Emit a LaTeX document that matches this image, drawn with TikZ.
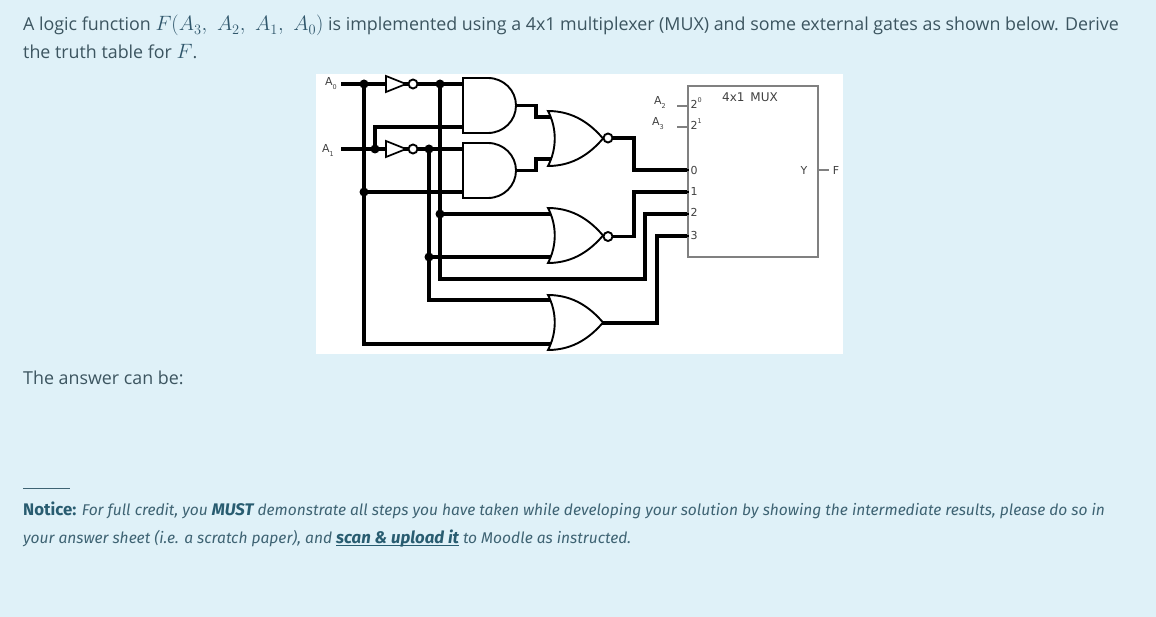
\documentclass[tikz,border=0pt]{standalone}
\usepackage{fontspec}
\setmainfont{Open Sans}
\newfontfamily\fira{Fira Sans}
\newfontfamily\dejavu{DejaVu Sans}
\definecolor{pagebg}{HTML}{DFF1F8}
\definecolor{bodytxt}{HTML}{3C5560}
\definecolor{mathtxt}{HTML}{2F566B}
\definecolor{noticetxt}{HTML}{3E6373}
\definecolor{strongtxt}{HTML}{285C70}
\definecolor{muxgray}{HTML}{808080}
\definecolor{lbl}{HTML}{404040}
\newcommand{\sbs}[1]{\raisebox{-4pt}{\fontsize{6.5}{6.5}\selectfont #1}}
\newcommand{\sps}[1]{\raisebox{6pt}{\fontsize{6.5}{6.5}\selectfont #1}}
\newcommand{\bigmath}[1]{\textcolor{mathtxt}{\fontsize{22}{22}\selectfont$#1$}}
\newcommand{\strongtext}[1]{{\fontsize{16.8}{17}\selectfont\bfseries\textcolor{strongtxt}{#1}}}
\tikzset{
  x=1pt,y=-1pt,
  wire/.style={line width=3.1pt,black,line join=miter},
  gateline/.style={line width=1.9pt,black,fill=white,line join=miter},
  thin wire/.style={line width=1.2pt,muxgray},
  junction/.style={circle,fill=black,inner sep=0pt,minimum size=9pt},
  bubble/.style={circle,draw=black,line width=1.9pt,fill=white,inner sep=0pt,minimum size=9pt},
  head/.style={anchor=base west,inner sep=0pt,text=bodytxt,font=\fontsize{17.85}{18}\selectfont},
  notice/.style={anchor=base west,inner sep=0pt,text=noticetxt,font=\fira\itshape\fontsize{15.55}{16}\selectfont},
  small/.style={inner sep=0pt,text=lbl,font=\dejavu\fontsize{11}{11}\selectfont},
  andgate/.pic={
    \draw[gateline] (0,-27.5) -- (25,-27.5) .. controls (40.5,-27.5) and (53,-15.2) .. (53,0)
      .. controls (53,15.2) and (40.5,27.5) .. (25,27.5) -- (0,27.5) -- cycle;
    \coordinate (-o) at (53,0);
  },
  orgate/.pic={
    \draw[gateline] (-1,-27.5) .. controls (25,-27.5) and (42,-14) .. (54,0)
      .. controls (42,14) and (25,27.5) .. (-1,27.5)
      .. controls (8,10) and (8,-10) .. (-1,-27.5) -- cycle;
    \coordinate (-o) at (54,0);
  },
  invgate/.pic={
    \draw[line width=1.7pt,black,fill=white,line join=miter] (0,-8) -- (20,0) -- (0,8) -- cycle;
  }
}
\begin{document}
\begin{tikzpicture}
\useasboundingbox (0,0) rectangle (1156,617);
\fill[pagebg] (0,0) rectangle (1156,617);
\fill[white] (316,74) rectangle (843,354);

% question text
\node[head] (q1) at (23,31) {A logic function \bigmath{F(A_3,\mskip5.5mu A_2,\mskip5.5mu A_1,\mskip5.5mu A_0)} is implemented using a 4x1 multiplexer (MUX) and some external gates as shown below. Derive};
\node[head] (q2) at (23,58.5) {the truth table for \bigmath{F}.};
\node[head] (ans) at (23,384.5) {The answer can be:};
\draw[line width=0.8pt,noticetxt] (23,488) -- (70,488);
\node[notice] (n1) at (23,515.5) {{\upshape\strongtext{Notice:}} For full credit, you \strongtext{MUST} demonstrate all steps you have taken while developing your solution by showing the intermediate results, please do so in};
\node[notice] (n2) at (23,543.5) {your answer sheet (i.e. a scratch paper), and \strongtext{\underline{\smash{scan \& upload it}}} to Moodle as instructed.};

% named points
\coordinate (a0s) at (341,84);
\coordinate (a1s) at (341,149);
\node[junction] (j0) at (364,84) {};
\node[junction] (j1) at (440,84) {};
\node[junction] (j2) at (375,149) {};
\node[junction] (j3) at (429,149) {};
\node[junction] (j4) at (364,192) {};
\node[junction] (j5) at (440,214) {};
\node[junction] (j6) at (429,257) {};
\coordinate (b1) at (364,344);
\coordinate (b2) at (440,279);
\coordinate (b3) at (429,300);
\coordinate (t1) at (375,127);
\coordinate (m0) at (688,170);
\coordinate (m1) at (688,192);
\coordinate (m2) at (688,214);
\coordinate (m3) at (688,236);

% wires
\draw[wire] (a0s) -- (j0.center) -- (j1.center) -- (463,84);
\draw[wire] (a1s) -- (j2.center) -- (j3.center) -- (463,149);
\draw[wire] (j2.center) -- (t1) -- (463,127);
\draw[wire] (j0.center) -- (j4.center) -- (b1) -- (551,344);
\draw[wire] (j4.center) -- (463,192);
\draw[wire] (j1.center) -- (j5.center) -- (b2) -- (645,279) -- (645,214) -- (m2);
\draw[wire] (j3.center) -- (j6.center) -- (b3) -- (551,300);
\draw[wire] (j5.center) -- (551,214);
\draw[wire] (j6.center) -- (551,257);
\draw[wire] (516,105.5) -- (536,105.5) -- (536,117) -- (551,117);
\draw[wire] (516,170.5) -- (536,170.5) -- (536,159) -- (551,159);
\draw[wire] (608,138) -- (634,138) -- (634,170) -- (m0);
\draw[wire] (608,236.5) -- (634,236.5) -- (634,192) -- (m1);
\draw[wire] (602,323) -- (657,323) -- (657,236) -- (m3);

% gates
\pic (inv0) at (386,84) {invgate};
\pic (inv1) at (386,149) {invgate};
\node[bubble] (b0) at (413,84) {};
\node[bubble] (bb1) at (413,149) {};
\pic (and1) at (463,105.5) {andgate};
\pic (and2) at (463,170.5) {andgate};
\pic (nor1) at (549,138.5) {orgate};
\pic (nor2) at (549,235.5) {orgate};
\pic (or3) at (549,322.5) {orgate};
\node[bubble] (bn1) at (608,138) {};
\node[bubble] (bn2) at (608,236.5) {};

% mux
\node[draw=muxgray,line width=1.2pt,fill=white,minimum width=130pt,minimum height=171pt,inner sep=0pt] (mux) at (753,171.5) {};
\node[small,font=\dejavu\fontsize{12}{12}\selectfont] (muxt) at (750,97) {4x1\, MUX};
\coordinate (s0) at (677,106);
\coordinate (s1) at (677,127);
\coordinate (yy) at (818,170);
\coordinate (ff) at (829,170);
\draw[thin wire] (s0) -- (688,106);
\draw[thin wire] (s1) -- (688,127);
\draw[thin wire] (yy) -- (ff);
\fill[black] (686.5,168.7) rectangle (689,171.3);
\fill[black] (686.5,190.7) rectangle (689,193.3);
\fill[black] (686.5,212.7) rectangle (689,215.3);
\fill[black] (686.5,234.7) rectangle (689,237.3);

% labels
\node[small] (la0) at (331,84) {A\sbs{0}};
\node[small] (la1) at (328,150) {A\sbs{1}};
\node[small] (la2) at (660,102) {A\sbs{2}};
\node[small] (la3) at (658,124) {A\sbs{3}};
\node[small,anchor=west] (p0) at (690.5,103) {2\sps{0}};
\node[small,anchor=west] (p1) at (690.5,124) {2\sps{1}};
\node[small,anchor=west] (i0) at (690.5,170) {0};
\node[small,anchor=west] (i1) at (690.5,191) {1};
\node[small,anchor=west] (i2) at (690.5,212) {2};
\node[small,anchor=west] (i3) at (690.5,235) {3};
\node[small] (ly) at (804,170) {Y};
\node[small] (lf) at (836,170) {F};
\end{tikzpicture}
\end{document}
